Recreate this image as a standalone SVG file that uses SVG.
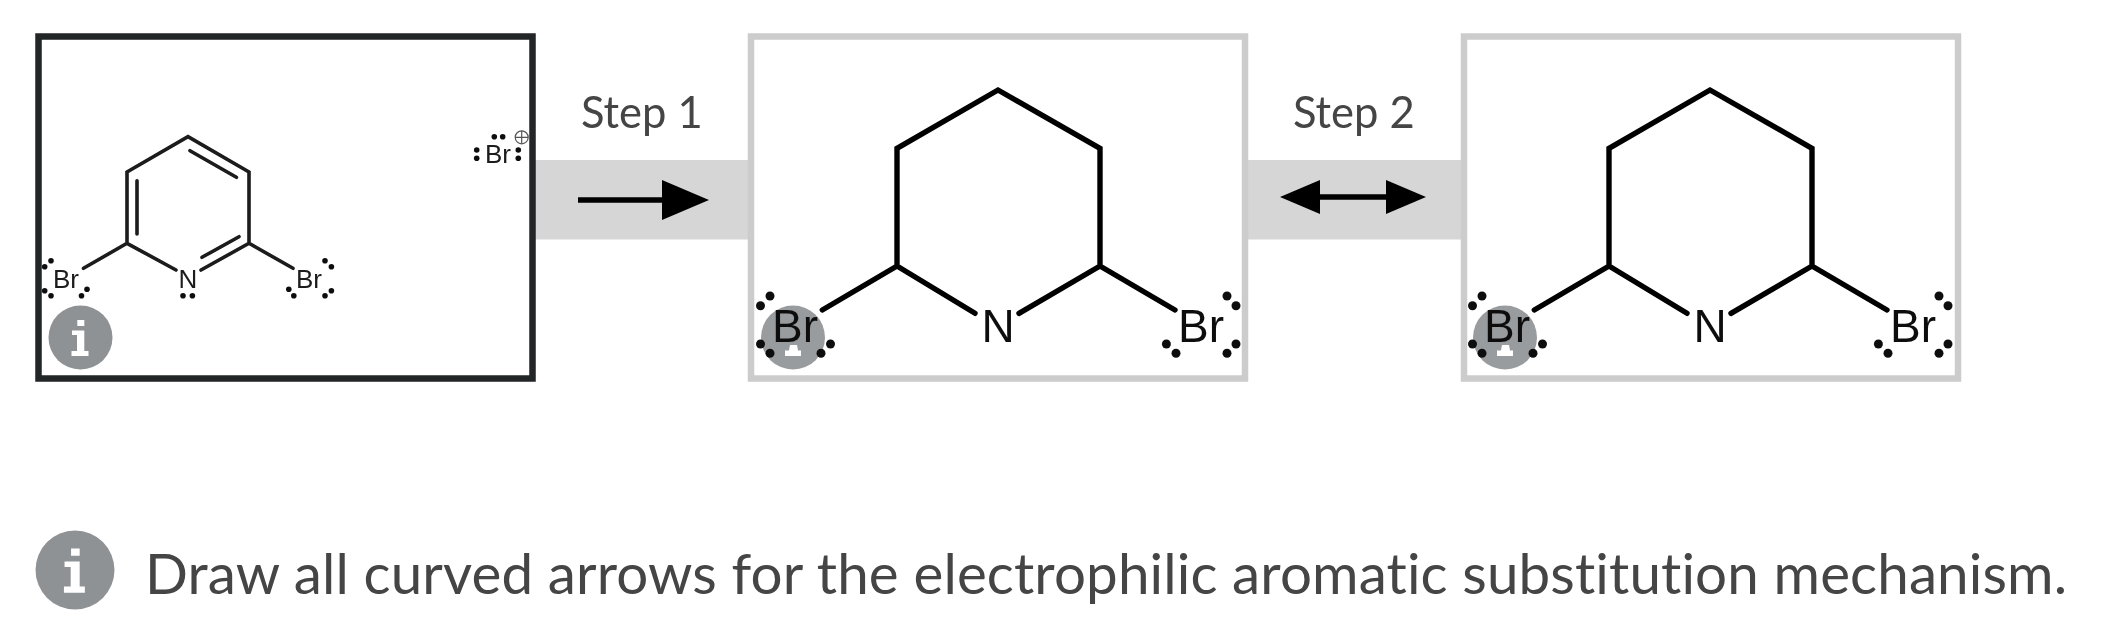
<svg xmlns="http://www.w3.org/2000/svg" width="2106" height="634" viewBox="0 0 2106 634">
<style>
.box{fill:#fff;stroke:#ccc;stroke-width:6.5}
.box.sel{stroke:#212527}
.band{fill:#d6d6d6}
.lbl{font-family:Lato,"Open Sans",sans-serif;fill:#444;font-variant-ligatures:none}
.b1{fill:none;stroke:#1a1a1a;stroke-width:3.600;stroke-linecap:round;stroke-linejoin:miter}
.b2{fill:none;stroke:#000;stroke-width:5.400;stroke-linecap:round;stroke-linejoin:miter}
.a1{font-family:"Liberation Sans",Arial,sans-serif;font-size:26px;fill:#1a1a1a}
.a2{font-family:"Liberation Sans",Arial,sans-serif;font-size:46px;fill:#111}
.d1{fill:#111}
.info{fill:#8f9295}
.infol{fill:#999c9e}
.arrow{stroke:#000;stroke-width:5.500;fill:none}
.soft{filter:url(#soft)}
</style>
<defs>
<filter id="soft" x="-5%" y="-5%" width="110%" height="110%"><feGaussianBlur stdDeviation="0.600"/></filter>
<marker id="head" markerUnits="userSpaceOnUse" markerWidth="48" markerHeight="40" refX="0" refY="20" orient="auto"><path d="M0 0L47 20L0 40Z" fill="#000"/></marker>
<marker id="headS" markerUnits="userSpaceOnUse" markerWidth="41" markerHeight="34" refX="0" refY="17" orient="auto-start-reverse"><path d="M0 0L40 17L0 34Z" fill="#000"/></marker>
<path id="i-glyph" d="M-3.200-17.500h7v6h-7ZM-8.500-7h12.300V13.500H8V18.500H-9V13.500H-3.500V-2.500H-8.500Z" fill="#fff"/>
</defs>

<g id="connectors" class="soft">
<rect class="band" x="533" y="160" width="218" height="79.500"/>
<rect class="band" x="1245" y="160" width="219" height="79.500"/>
<line class="arrow" x1="578" y1="200" x2="662" y2="200" marker-end="url(#head)"/>
<line class="arrow" x1="1320" y1="197" x2="1386" y2="197" marker-start="url(#headS)" marker-end="url(#headS)"/>
<text class="lbl" x="581" y="128" font-size="43.500">Step 1</text>
<text class="lbl" x="1293" y="128" font-size="43.500">Step 2</text>
</g>

<g id="reactant" class="soft">
<rect class="box sel" x="38.500" y="36.500" width="494" height="342"/>
<path class="b1" d="M127 243.300V172L188 136.700L249 172V243.300L201 270M127 243.300L176 270M137 180.700V234M190 150.700L236.400 177.300M202 257.300L239 236.700M127 243.300L83.500 268.300M249 243.300L293 268.300"/>
<text class="a1" x="188" y="288" text-anchor="middle">N</text>
<text class="a1" x="53" y="288">Br</text>
<text class="a1" x="296" y="288">Br</text>
<g class="d1">
<circle cx="183" cy="295.800" r="2.800"/><circle cx="192.400" cy="295.800" r="2.800"/>
<circle cx="51" cy="260.700" r="2.800"/><circle cx="44.700" cy="266.700" r="2.800"/><circle cx="44.700" cy="290.700" r="2.800"/><circle cx="51" cy="295.700" r="2.800"/><circle cx="87" cy="289.300" r="2.800"/><circle cx="81.500" cy="295.700" r="2.800"/>
<circle cx="325" cy="260.700" r="2.800"/><circle cx="331.400" cy="266.700" r="2.800"/><circle cx="331.400" cy="290.700" r="2.800"/><circle cx="325" cy="295.700" r="2.800"/><circle cx="288.800" cy="289.300" r="2.800"/><circle cx="293.800" cy="295.700" r="2.800"/>
<circle cx="494.300" cy="136.700" r="2.800"/><circle cx="502.700" cy="136.700" r="2.800"/>
<circle cx="476.700" cy="150" r="2.800"/><circle cx="476.700" cy="158.300" r="2.800"/>
<circle cx="518.300" cy="150" r="2.800"/><circle cx="518.300" cy="158.300" r="2.800"/>
</g>
<text class="a1" x="485" y="163">Br</text>
<circle cx="521.700" cy="137.300" r="6.500" fill="none" stroke="#555" stroke-width="1.200"/>
<path d="M515.200 137.300h13M521.700 130.800v13" fill="none" stroke="#555" stroke-width="1.200"/>
<circle class="info" cx="80.500" cy="337.500" r="32"/>
<use href="#i-glyph" x="80.500" y="337.500"/>
</g>

<g id="intermediate" class="soft">
<rect class="box" x="751" y="36.500" width="494" height="342"/>
<circle class="infol" cx="793" cy="337.500" r="32"/>
<path d="M790 345h7l1 5.500h3v5.500h-16v-5.500h4Z" fill="#fff"/>
<path class="b2" d="M822.300 310L897 266V148.300L998 90L1100 148.300V266L1175 310M897 266L975 313.300M1100 266L1019 313.300"/>
<text class="a2" x="998" y="341.500" text-anchor="middle">N</text>
<text class="a2" x="772" y="341.500">Br</text>
<text class="a2" x="1178" y="341.500">Br</text>
<g class="d1">
<circle cx="770" cy="296" r="4.500"/><circle cx="760.500" cy="305.700" r="4.500"/><circle cx="760.500" cy="344" r="4.500"/><circle cx="770" cy="353.300" r="4.500"/><circle cx="830.500" cy="344" r="4.500"/><circle cx="821" cy="353.300" r="4.500"/>
<circle cx="1227" cy="296" r="4.500"/><circle cx="1236" cy="305.700" r="4.500"/><circle cx="1236" cy="344" r="4.500"/><circle cx="1227" cy="353.300" r="4.500"/><circle cx="1166.400" cy="344" r="4.500"/><circle cx="1176" cy="353.300" r="4.500"/>
</g>
</g>

<g id="product" class="soft" transform="translate(712 0)">
<rect class="box" x="752" y="36.500" width="494" height="342"/>
<circle class="infol" cx="793" cy="337.500" r="32"/>
<path d="M790 345h7l1 5.500h3v5.500h-16v-5.500h4Z" fill="#fff"/>
<path class="b2" d="M822.300 310L897 266V148.300L998 90L1100 148.300V266L1175 310M897 266L975 313.300M1100 266L1019 313.300"/>
<text class="a2" x="998" y="341.500" text-anchor="middle">N</text>
<text class="a2" x="772" y="341.500">Br</text>
<text class="a2" x="1178" y="341.500">Br</text>
<g class="d1">
<circle cx="770" cy="296" r="4.500"/><circle cx="760.500" cy="305.700" r="4.500"/><circle cx="760.500" cy="344" r="4.500"/><circle cx="770" cy="353.300" r="4.500"/><circle cx="830.500" cy="344" r="4.500"/><circle cx="821" cy="353.300" r="4.500"/>
<circle cx="1227" cy="296" r="4.500"/><circle cx="1236" cy="305.700" r="4.500"/><circle cx="1236" cy="344" r="4.500"/><circle cx="1227" cy="353.300" r="4.500"/><circle cx="1166.400" cy="344" r="4.500"/><circle cx="1176" cy="353.300" r="4.500"/>
</g>
</g>

<g id="instruction" class="soft">
<circle class="info" cx="75" cy="570" r="39.500"/>
<use href="#i-glyph" transform="translate(75 570) scale(1.230)"/>
<text class="lbl" x="145" y="594" font-size="56.500" textLength="1922" lengthAdjust="spacing">Draw all curved arrows for the electrophilic aromatic substitution mechanism.</text>
</g>
</svg>
